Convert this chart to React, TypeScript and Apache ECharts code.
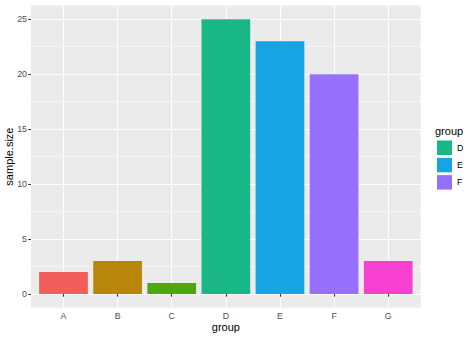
import React, { useEffect, useRef } from "react";
import * as echarts from "echarts";

const categories = ["A", "B", "C", "D", "E", "F", "G"];
const sampleSize = [2, 3, 1, 25, 23, 20, 3];
const barColors = ["#F25E5B", "#B8860B", "#4EA80B", "#1AB786", "#18A3E4", "#9670FD", "#F540D1"];
const legendGroups = ["D", "E", "F"];
const yTicks = [0, 5, 10, 15, 20, 25];
const xTitle = "group";
const yTitle = "sample.size";
const legendTitle = "group";

const FONT = "Liberation Sans, Arial, Helvetica, sans-serif";

// panel geometry (ggplot-like expansion)
const PL = 31;
const PT = 5.5;
const PW = 389.7;
const PH = 302.2;
const unitX = PW / 7.2;
const yMin = -1.25;
const yMax = 26.25;
const unitY = PH / (yMax - yMin);
const innerTop = PT + (yMax - 25) * unitY;
const innerH = 25 * unitY;
const bottomOffset = PT + PH - (innerTop + innerH);

const gridBase = { containLabel: false, outerBoundsMode: "none" };

export default function App() {
  const ref = useRef<HTMLDivElement>(null);
  useEffect(() => {
    if (!ref.current) return;
    const chart = echarts.init(ref.current, undefined, { renderer: "svg" });
    const series = categories.map((c, i) => ({
      type: "bar",
      name: c,
      xAxisIndex: 3,
      yAxisIndex: 3,
      barCategoryGap: "10%",
      barGap: "-100%",
      itemStyle: { color: barColors[i] },
      data: categories.map((_, j) => (j === i ? sampleSize[i] : "-")),
      z: 3,
    }));
    chart.setOption({
      animation: false,
      textStyle: { fontFamily: FONT },
      grid: [
        { ...gridBase, left: PL, top: PT, width: PW, height: PH, show: true, backgroundColor: "#EBEBEB", borderWidth: 0 },
        { ...gridBase, left: PL, top: innerTop, width: PW, height: innerH },
        { ...gridBase, left: PL + 0.6 * unitX, top: PT, width: 6 * unitX, height: PH },
        { ...gridBase, left: PL + 0.1 * unitX, top: innerTop, width: 7 * unitX, height: innerH },
      ],
      xAxis: [
        { gridIndex: 0, type: "value", show: false },
        { gridIndex: 1, type: "value", show: false },
        {
          gridIndex: 2,
          type: "value",
          min: 1,
          max: 7,
          interval: 1,
          axisLine: { show: false },
          axisTick: { show: false },
          axisLabel: { show: false },
          splitLine: { show: true, lineStyle: { color: "#FFFFFF", width: 1.07 } },
        },
        {
          gridIndex: 3,
          type: "category",
          data: categories,
          offset: bottomOffset,
          axisLine: { show: false },
          axisTick: { show: true, alignWithLabel: true, length: 2.74, lineStyle: { color: "#333333", width: 1.07 } },
          axisLabel: { color: "#4D4D4D", fontSize: 8.8, margin: 3.5, fontFamily: FONT },
          splitLine: { show: false },
        },
      ],
      yAxis: [
        { gridIndex: 0, type: "value", show: false },
        {
          gridIndex: 1,
          type: "value",
          min: yTicks[0],
          max: yTicks[yTicks.length - 1],
          interval: 5,
          axisLine: { show: false },
          axisTick: { show: true, length: 2.74, lineStyle: { color: "#333333", width: 1.07 } },
          axisLabel: { color: "#4D4D4D", fontSize: 8.8, margin: 4, fontFamily: FONT },
          splitLine: { show: true, lineStyle: { color: "#FFFFFF", width: 1.07 } },
          minorTick: { show: false, splitNumber: 2 },
          minorSplitLine: { show: true, lineStyle: { color: "#FFFFFF", width: 0.53 } },
        },
        { gridIndex: 2, type: "value", show: false },
        { gridIndex: 3, type: "value", show: false, min: yTicks[0], max: yTicks[yTicks.length - 1] },
      ],
      legend: {
        data: legendGroups,
        orient: "vertical",
        left: 437,
        top: 140.5,
        padding: 0,
        itemWidth: 15,
        itemHeight: 14.5,
        itemGap: 2.8,
        icon: "rect",
        selectedMode: false,
        textStyle: { color: "#000000", fontSize: 8.8, fontFamily: FONT },
      },
      graphic: [
        {
          type: "text",
          x: 435,
          y: 131,
          style: { text: legendTitle, fill: "#000000", fontSize: 11, fontFamily: FONT, verticalAlign: "middle" },
        },
        {
          type: "text",
          x: PL + PW / 2,
          y: 326.5,
          style: { text: xTitle, fill: "#000000", fontSize: 11, fontFamily: FONT, align: "center", verticalAlign: "middle" },
        },
        {
          type: "text",
          x: 9,
          y: PT + PH / 2,
          rotation: Math.PI / 2,
          style: { text: yTitle, fill: "#000000", fontSize: 11, fontFamily: FONT, align: "center", verticalAlign: "middle" },
        },
      ],
      series,
    });
    return () => chart.dispose();
  }, []);
  return (
    <div
      ref={ref}
      style={{ position: "fixed", left: 0, top: 0, width: 474, height: 338, background: "#FFFFFF" }}
    />
  );
}
